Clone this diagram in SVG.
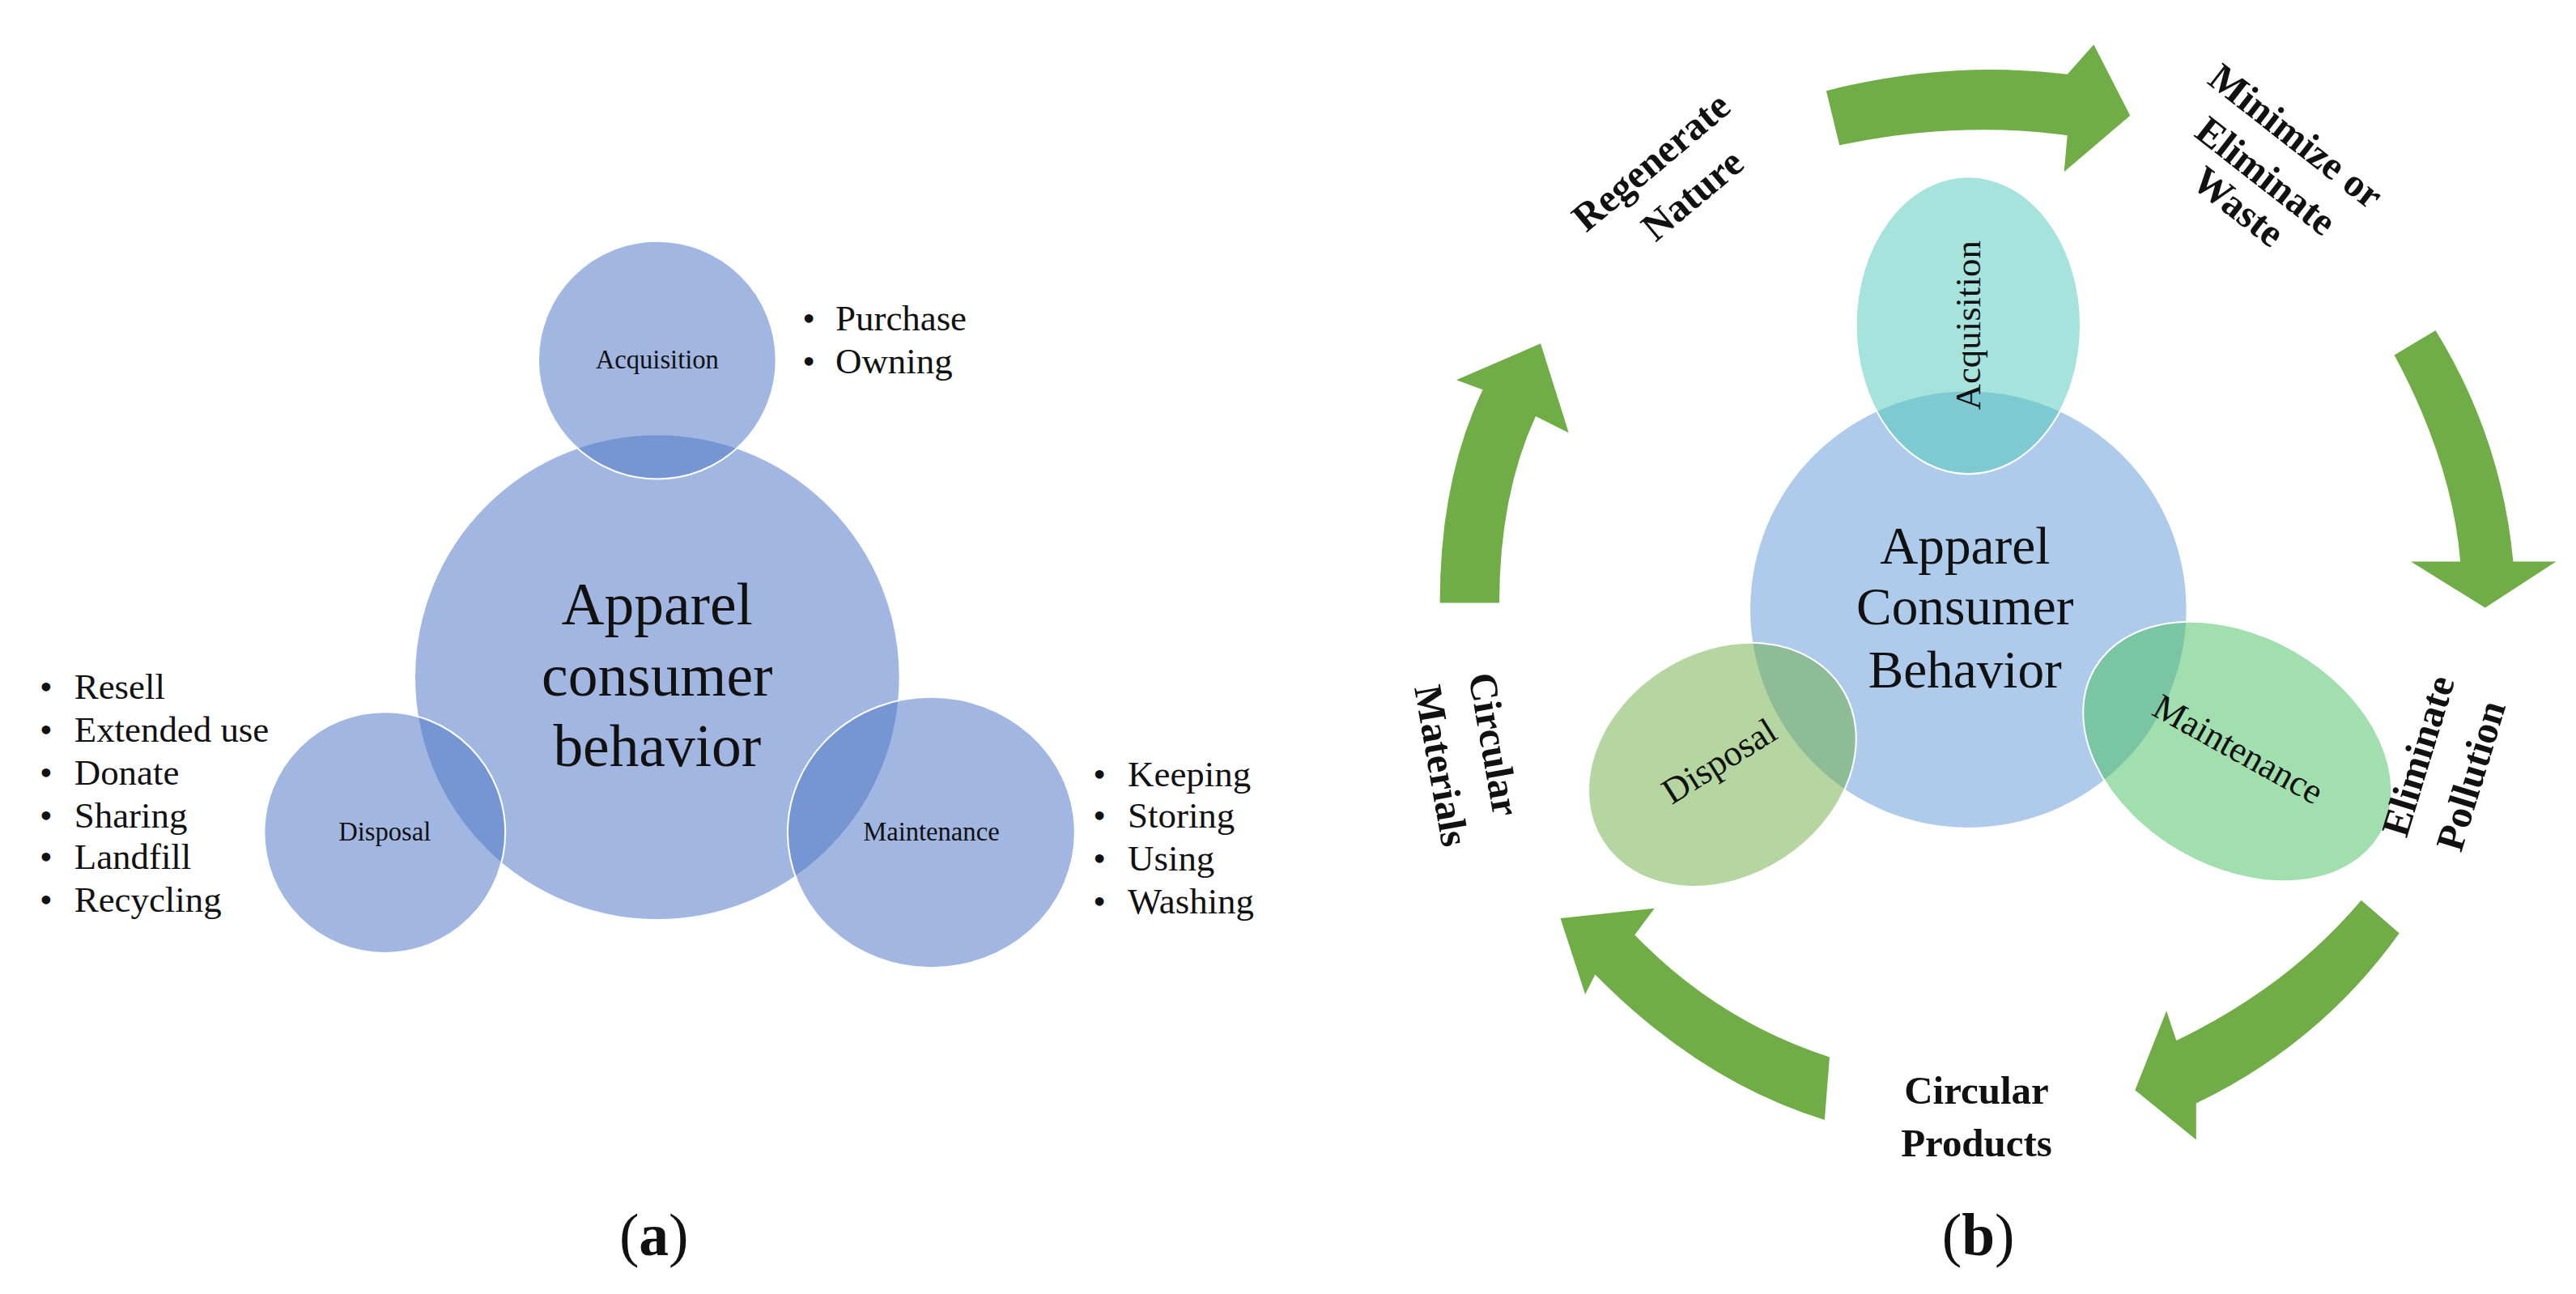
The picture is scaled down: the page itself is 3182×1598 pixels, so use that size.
<svg xmlns="http://www.w3.org/2000/svg" width="3182" height="1598" viewBox="0 0 3182 1598">
<style>
text{font-family:"Liberation Serif",serif;fill:#111}
.a{fill:rgb(82,122,200);fill-opacity:.54;stroke:#fff;stroke-width:1}
.s{font-size:16px;text-anchor:middle}
.b{font-size:22px}
.bl{font-size:24px;font-weight:bold;text-anchor:middle}
.arr{fill:#70ad47}
</style>
<rect width="3182" height="1598" fill="#fff"/>
<g transform="scale(2.0397)">
<g id="panel-a">
<g id="center-a"><circle class="a" cx="398" cy="410" r="147"/>
<text x="398" y="378" style="font-size:36px;text-anchor:middle">Apparel</text>
<text x="398" y="421" style="font-size:36px;text-anchor:middle">consumer</text>
<text x="398" y="464" style="font-size:36px;text-anchor:middle">behavior</text></g>
<g id="acq-a"><circle class="a" cx="398" cy="218" r="72"/><text class="s" x="398" y="223">Acquisition</text>
<text class="b" x="486" y="200">•</text><text class="b" x="506" y="200">Purchase</text>
<text class="b" x="486" y="226">•</text><text class="b" x="506" y="226">Owning</text></g>
<g id="disp-a"><circle class="a" cx="233" cy="504" r="73"/><text class="s" x="233" y="509">Disposal</text>
<g class="b"><text x="24" y="423">•</text><text x="45" y="423">Resell</text>
<text x="24" y="449">•</text><text x="45" y="449">Extended use</text>
<text x="24" y="475">•</text><text x="45" y="475">Donate</text>
<text x="24" y="501">•</text><text x="45" y="501">Sharing</text>
<text x="24" y="526">•</text><text x="45" y="526">Landfill</text>
<text x="24" y="552">•</text><text x="45" y="552">Recycling</text></g></g>
<g id="maint-a"><ellipse class="a" cx="564" cy="504" rx="87" ry="82"/><text class="s" x="564" y="509">Maintenance</text>
<g class="b"><text x="662" y="476">•</text><text x="683" y="476">Keeping</text>
<text x="662" y="501">•</text><text x="683" y="501">Storing</text>
<text x="662" y="527">•</text><text x="683" y="527">Using</text>
<text x="662" y="553">•</text><text x="683" y="553">Washing</text></g></g>
<text x="396" y="760" style="font-size:36px;text-anchor:middle">(<tspan font-weight="bold">a</tspan>)</text>
</g>
<g id="panel-b">
<g id="center-b"><circle cx="1192" cy="369" r="132" fill="#aecbeb"/>
<text x="1190" y="341" style="font-size:32px;text-anchor:middle">Apparel</text>
<text x="1190" y="378" style="font-size:32px;text-anchor:middle">Consumer</text>
<text x="1190" y="416" style="font-size:32px;text-anchor:middle">Behavior</text></g>
<g id="acq-b"><ellipse cx="1192" cy="197" rx="68" ry="90" fill="rgb(82,201,188)" fill-opacity=".52" stroke="#fff"/>
<text class="s" transform="translate(1199,197) rotate(-90)" style="font-size:22px">Acquisition</text></g>
<g id="disp-b"><ellipse cx="1043" cy="463" rx="86" ry="68" transform="rotate(-33 1043 463)" fill="rgb(109,174,67)" fill-opacity=".5" stroke="#fff"/>
<text class="s" transform="translate(1045,467) rotate(-32)" style="font-size:22px">Disposal</text></g>
<g id="maint-b"><ellipse cx="1355" cy="455" rx="100" ry="70" transform="rotate(30 1355 455)" fill="rgb(69,192,94)" fill-opacity=".5" stroke="#fff"/>
<text class="s" transform="translate(1352,460) rotate(29)" style="font-size:22px">Maintenance</text></g>
<g id="connectors">
<path class="arr" d="M1106,55 Q1180,36 1252,45 L1268,27 L1290,70 L1250,104 L1252,82 Q1185,73 1114,88 Z"/>
<path class="arr" d="M1450,215 L1475,200 Q1515,265 1522,340 L1548,340 L1505,368 L1460,340 L1490,340 Q1485,280 1450,215 Z"/>
<path class="arr" d="M1430,545 L1453,565 Q1405,632 1330,668 L1330,690 L1293,660 L1312,612 L1318,630 Q1385,598 1430,545 Z"/>
<path class="arr" d="M1108,640 L1105,678 Q1030,655 966,590 L960,602 L945,556 L1002,550 L990,566 Q1040,618 1108,640 Z"/>
<path class="arr" d="M872,365 Q872,290 898,236 L882,230 L933,208 L950,262 L930,252 Q908,300 908,365 Z"/>
</g>
<g id="labels">
<text class="bl" transform="translate(1005,104) rotate(-40)">Regenerate</text>
<text class="bl" transform="translate(1030,124) rotate(-40)">Nature</text>
<text transform="translate(1336,50) rotate(38)" style="font-size:24px;font-weight:bold">Minimize or</text>
<text transform="translate(1328,82) rotate(38)" style="font-size:24px;font-weight:bold">Eliminate</text>
<text transform="translate(1326,112) rotate(38)" style="font-size:24px;font-weight:bold">Waste</text>
<text class="bl" transform="translate(1472,460) rotate(-73)">Eliminate</text>
<text class="bl" transform="translate(1504,472) rotate(-73)">Pollution</text>
<text class="bl" x="1197" y="668">Circular</text>
<text class="bl" x="1197" y="700">Products</text>
<text class="bl" transform="translate(897,452) rotate(80)">Circular</text>
<text class="bl" transform="translate(865,465) rotate(80)">Materials</text>
</g>
<text x="1198" y="760" style="font-size:36px;text-anchor:middle">(<tspan font-weight="bold">b</tspan>)</text>
</g>
</g>
</svg>
